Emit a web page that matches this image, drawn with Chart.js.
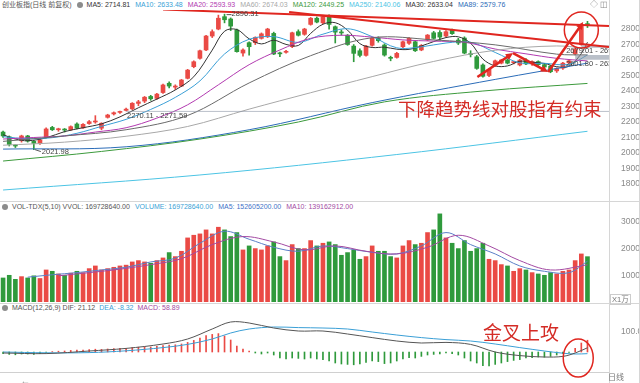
<!DOCTYPE html>
<html>
<head>
<meta charset="utf-8">
<title>创业板指 日线</title>
<script src="https://cdn.jsdelivr.net/npm/chart.js@4.4.1/dist/chart.umd.min.js"></script>
<style>
  html, body { margin: 0; padding: 0; background: #fff; }
  #wrap { position: relative; width: 640px; height: 383px; overflow: hidden; font-family: "Liberation Sans", Arial, "Noto Sans CJK SC", sans-serif; }
  #wrap canvas { position: absolute; left: 0; }
  .legend { position: absolute; left: 2px; height: 10px; line-height: 10px; font-size: 7px; white-space: nowrap; color: #555; }
  .legend span { margin-right: 5px; }
  .legend .dot { display: inline-block; width: 6px; height: 6px; border-radius: 50%; background: #8c8c8c; margin-right: 4px; vertical-align: -1px; }
  .rule { position: absolute; background: #d6d6d6; }
  .clip { position: absolute; left: 0; width: 609px; overflow: hidden; }
  .tag { position: absolute; font-size: 7.5px; line-height: 9px; color: #444; white-space: nowrap; }
  .say { position: absolute; color: #d42c26; font-family: "Noto Sans CJK SC", sans-serif; white-space: nowrap; }
</style>
</head>
<body>
<div id="wrap">
  <canvas id="kline" width="640" height="191" style="top:10px"></canvas>
  <canvas id="vol" width="640" height="90" style="top:212px"></canvas>
  <canvas id="macd" width="640" height="69" style="top:314px"></canvas>

  <div class="rule" style="left:0;top:201px;width:640px;height:1px"></div>
  <div class="rule" style="left:0;top:303px;width:640px;height:1px"></div>
  <div class="rule" style="left:609px;top:0;width:1px;height:383px"></div>
  <div class="rule" style="left:639px;top:0;width:1px;height:383px"></div>

  <div class="legend" style="top:0">
    <span>创业板指(日线 前复权)</span><i class="dot"></i><span style="color:#333">MA5: 2714.81</span><span style="color:#3a9fd6">MA10: 2633.48</span><span style="color:#b23ab0">MA20: 2593.93</span><span style="color:#a8a8a8">MA60: 2674.03</span><span style="color:#3c9a3c">MA120: 2449.25</span><span style="color:#4cc4e4">MA250: 2140.06</span><span style="color:#333">MA30: 2633.04</span><span style="color:#2b6cb8">MA89: 2579.76</span>
  </div>
  <div class="legend" style="top:0;left:590px;color:#888;font-size:8px">◇ ◫</div>
  <div class="legend" style="top:202px">
    <i class="dot"></i><span>VOL-TDX(5,10) VVOL: 169728640.00</span><span style="color:#3a9fd6">VOLUME: 169728640.00</span><span style="color:#3f73c8">MA5: 152605200.00</span><span style="color:#a34aa3">MA10: 139162912.00</span>
  </div>
  <div class="legend" style="top:303px">
    <i class="dot"></i><span style="margin-right:4px">MACD(12,26,9) DIF: 21.12</span><span style="color:#3a9fd6;margin-right:4px">DEA: -8.32</span><span style="color:#a34aa3">MACD: 58.89</span>
  </div>

  <div class="clip" style="top:10px;height:191px">
    <div class="tag" id="tagHigh"></div>
    <div class="tag" id="tagLow"></div>
    <div class="tag" id="tagGap0"></div>
    <div class="tag" id="tagGap1"></div>
    <div class="tag" id="tagGap2"></div>
  </div>

  <div class="say" style="left:398px;top:95px;font-size:18.5px">下降趋势线对股指有约束</div>
  <div class="say" style="left:483px;top:318px;font-size:19px">金叉上攻</div>

  <div class="tag" style="left:610px;top:294px;border:1px solid #ccc;padding:0 1px;color:#777">X1万</div>
  <div class="tag" style="left:608px;top:373px;font-size:8px;color:#777">日线</div>
</div>

<script>
// trading days shown, by month (2020)
const tradingDays = {
  5: [21, 22, 25, 26, 27, 28, 29],
  6: [1, 2, 3, 4, 5, 8, 9, 10, 11, 12, 15, 16, 17, 18, 19, 22, 23, 24, 29, 30],
  7: [1, 2, 3, 6, 7, 8, 9, 10, 13, 14, 15, 16, 17, 20, 21, 22, 23, 24, 27, 28, 29, 30, 31],
  8: [3, 4, 5, 6, 7, 10, 11, 12, 13, 14, 17, 18, 19, 20, 21, 24, 25, 26, 27, 28, 31],
  9: [1, 2, 3, 4, 7, 8, 9, 10, 11, 14, 15, 16, 17, 18, 21, 22, 23, 24, 25, 28, 29, 30],
  10: [9, 12, 13]
};
const dates = [];
Object.keys(tradingDays).forEach(m => tradingDays[m].forEach(d => dates.push(m + '/' + d)));

// x axis: month marks
const monthStarts = [0, 7, 27, 50, 71, 93];
const monthNames = ['2020年', '6', '7', '8', '9', '10'];

// daily candles
const open = [
  2135, 2105, 2050, 2079, 2110, 2075, 2062,
  2100, 2165, 2150, 2150, 2150, 2187, 2162, 2190, 2200, 2160, 2230, 2252, 2262, 2275, 2285, 2320, 2335, 2365, 2352, 2390,
  2450, 2425, 2432, 2482, 2557, 2611, 2665, 2755, 2800, 2880, 2865, 2794, 2645, 2712, 2712, 2740, 2750, 2772, 2645, 2650, 2686, 2783, 2766,
  2830, 2870, 2840, 2885, 2815, 2780, 2760, 2690, 2660, 2630, 2695, 2740, 2697, 2615, 2617, 2686, 2708, 2718, 2665, 2729, 2776,
  2778, 2755, 2795, 2729, 2742, 2640, 2621, 2568, 2500, 2568, 2580, 2600, 2583, 2568, 2600, 2575, 2590, 2570, 2561, 2530, 2548, 2582,
  2640, 2700, 2835
];
const high = [
  2142, 2110, 2055, 2115, 2114, 2080, 2090,
  2162, 2172, 2160, 2158, 2175, 2195, 2190, 2210, 2241, 2195, 2250, 2265, 2270.11, 2290, 2325, 2340, 2365, 2372, 2385, 2445,
  2460, 2440, 2475, 2540, 2595, 2665, 2760, 2795, 2890, 2896.31, 2872, 2800, 2672, 2718, 2750, 2775, 2805, 2780, 2652, 2662, 2780, 2795, 2805,
  2875, 2878, 2885, 2892, 2820, 2795, 2765, 2700, 2672, 2695, 2745, 2750, 2705, 2625, 2650, 2722, 2745, 2725, 2700, 2765, 2785,
  2790, 2790, 2800, 2740, 2750, 2660, 2630, 2575, 2545, 2600, 2605, 2605, 2592, 2605, 2610, 2595, 2595, 2578, 2565, 2550, 2585, 2601.80,
  2679.01, 2830, 2850
];
const low = [
  2100, 2045, 2035, 2070, 2070, 2021.98, 2055,
  2098, 2145, 2140, 2135, 2145, 2155, 2158, 2185, 2192, 2150, 2225, 2245, 2255, 2271.59, 2280, 2305, 2325, 2340, 2345, 2385,
  2420, 2410, 2428, 2478, 2550, 2605, 2660, 2745, 2795, 2840, 2790, 2650, 2625, 2632, 2700, 2735, 2745, 2635, 2621, 2645, 2680, 2755, 2760,
  2825, 2840, 2835, 2800, 2710, 2760, 2695, 2589, 2620, 2625, 2690, 2715, 2625, 2595, 2612, 2680, 2700, 2655, 2660, 2725, 2735,
  2730, 2750, 2765, 2700, 2640, 2620, 2540, 2490, 2492, 2560, 2575, 2575, 2575, 2562, 2570, 2565, 2565, 2545, 2518, 2520, 2540, 2570,
  2632.51, 2695.27, 2810
];
const close = [
  2110, 2055, 2045, 2110, 2077, 2062, 2084,
  2155, 2150, 2153, 2148, 2170, 2160, 2185, 2202, 2203, 2192, 2245, 2260, 2267, 2283, 2321, 2330, 2360, 2350, 2380, 2439,
  2432, 2432, 2471, 2535, 2589, 2660, 2755, 2783, 2870, 2860, 2819, 2654, 2665, 2686, 2746, 2769, 2800, 2639, 2640, 2655, 2776, 2760, 2800,
  2870, 2845, 2880, 2830, 2780, 2775, 2700, 2643, 2630, 2690, 2740, 2725, 2632, 2611, 2643, 2718, 2740, 2660, 2695, 2761, 2740,
  2748, 2783, 2770, 2710, 2645, 2635, 2546, 2495, 2540, 2595, 2600, 2580, 2585, 2600, 2575, 2590, 2570, 2555, 2525, 2545, 2580, 2595,
  2670, 2820, 2825
];

// moving averages: [day index, value]
const ma5 = [[0, 2118], [2, 2090], [4, 2079], [7, 2098], [10, 2138], [13, 2163], [16, 2188], [19, 2233], [22, 2292], [25, 2348], [28, 2407], [31, 2492], [34, 2664], [36, 2786], [38, 2797], [40, 2737], [42, 2704], [44, 2728], [46, 2701], [48, 2694], [50, 2772], [52, 2831], [54, 2841], [56, 2793], [58, 2706], [60, 2681], [62, 2683], [64, 2670], [66, 2669], [68, 2691], [70, 2719], [72, 2745], [74, 2750], [76, 2709], [78, 2606], [80, 2562], [82, 2562], [84, 2592], [86, 2586], [88, 2578], [90, 2557], [92, 2560], [94, 2642], [95, 2715]];
const ma10 = [[0, 2105], [4, 2092], [8, 2099], [12, 2127], [16, 2172], [20, 2217], [24, 2281], [28, 2359], [32, 2465], [36, 2639], [40, 2734], [44, 2751], [48, 2714], [52, 2767], [56, 2802], [60, 2751], [64, 2679], [68, 2685], [72, 2710], [76, 2715], [80, 2649], [84, 2582], [88, 2579], [92, 2572], [95, 2633]];
const ma20 = [[0, 2090], [5, 2100], [10, 2110], [15, 2135], [20, 2163], [25, 2225], [30, 2311], [35, 2440], [40, 2570], [45, 2665], [50, 2740], [55, 2760], [60, 2748], [65, 2730], [70, 2722], [75, 2715], [80, 2671], [85, 2640], [90, 2611], [95, 2594]];
const ma30 = [[0, 2075], [10, 2110], [20, 2150], [30, 2242], [40, 2452], [50, 2628], [60, 2744], [70, 2730], [80, 2698], [90, 2638], [95, 2633]];
const ma60 = [[0, 2050], [10, 2070], [20, 2108], [30, 2171], [40, 2283], [50, 2389], [60, 2493], [70, 2591], [80, 2663], [90, 2691], [95, 2674]];
const ma89 = [[0, 2025], [20, 2040], [40, 2150], [60, 2325], [80, 2475], [95, 2580]];
const ma120 = [[0, 1948], [16, 2010], [32, 2090], [48, 2200], [62, 2330], [78, 2400], [95, 2449]];
const ma250 = [[0, 1761], [32, 1858], [64, 1990], [95, 2140]];

// gaps left open: day index where the gap starts
const gapDays = [20, 93, 94];

// volume, 万
const volume = [
  9000, 10000, 8500, 9500, 9000, 9800, 8800,
  12000, 11500, 10500, 10000, 10800, 11500, 11000, 12500, 13500, 12000, 12500, 13000, 13500, 13800, 15000, 15500, 15000, 14500, 15500, 16500,
  18500, 17000, 19000, 24000, 25000, 25500, 27000, 25500, 28000, 27000, 24500, 26000, 19500, 21000, 20000, 19500, 21000, 22500, 17000, 15500, 21500, 20000, 20000,
  23000, 21000, 22000, 22500, 21500, 17500, 18500, 19500, 16000, 17000, 21000, 19000, 19000, 17000, 16500, 21000, 23000, 21500, 22000, 26000, 27000,
  33000, 24000, 22000, 20000, 23000, 19000, 20000, 22000, 16000, 15500, 14000, 13500, 11500, 12500, 12000, 11000, 10500, 10000, 11000, 10500, 11500, 12000,
  15500, 18000, 16973
];
const volMa5 = [[4, 9300], [8, 10200], [12, 11000], [16, 12000], [20, 13000], [24, 15000], [28, 16400], [32, 22000], [36, 26500], [40, 23500], [44, 20500], [48, 19000], [52, 21000], [56, 20000], [60, 18600], [64, 18000], [68, 21000], [72, 26000], [76, 21500], [80, 18000], [84, 13500], [88, 11500], [92, 11000], [95, 15260]];
const volMa10 = [[9, 9800], [14, 11000], [19, 12300], [24, 14000], [29, 16200], [34, 21500], [39, 24500], [44, 22500], [49, 19500], [54, 21000], [59, 19000], [64, 18000], [69, 20500], [74, 25000], [79, 21000], [84, 15500], [89, 12000], [95, 13916]];

// MACD(12,26,9)
const macdBar = [
  -8, -12, -14, -10, -10, -12, -8,
  -2, 2, 4, 5, 8, 9, 10, 12, 14, 13, 15, 17, 18, 18, 22, 24, 26, 25, 28, 32,
  35, 36, 40, 48, 58, 70, 82, 88, 92, 80, 60, 30, 15, 5, -5, -10, -5, -15, -30, -35, -30, -32, -35,
  -30, -35, -38, -45, -55, -60, -62, -64, -60, -52, -45, -48, -58, -55, -45, -35, -28, -30, -22, -15, -12,
  -10, -5, -8, -15, -30, -45, -55, -68, -70, -62, -55, -48, -42, -38, -30, -28, -25, -26, -22, -15, -8, -2,
  18, 45, 58.89
];
const dif = [[0, -5], [7, -8], [14, 5], [20, 18], [26, 40], [30, 65], [34, 115], [37, 150], [40, 145], [44, 120], [48, 105], [52, 105], [56, 90], [60, 72], [64, 55], [68, 45], [72, 48], [76, 38], [80, 0], [84, -18], [88, -25], [91, -22], [93, -5], [95, 21.12]];
const dea = [[0, 0], [7, -4], [14, -3], [20, 6], [26, 22], [30, 38], [34, 65], [37, 95], [40, 115], [44, 125], [48, 122], [52, 120], [56, 115], [60, 100], [64, 85], [68, 72], [72, 62], [76, 55], [80, 40], [84, 22], [88, 5], [91, -6], [93, -10], [95, -8.32]];

// axis ticks
const priceTicks = [1800, 1900, 2000, 2100, 2200, 2300, 2400, 2500, 2600, 2700, 2800];
const volTicks = [10000, 20000, 30000];
const macdTicks = [100];

const upRed = '#ea4a45';
const downGreen = '#2f9a3c';
const redInk = '#e0261f';

Chart.defaults.font.family = '"Liberation Sans", Arial, sans-serif';

// three empty slots after the last day
const axisLabels = dates.concat(['', ' ', '  ']);
const candleColor = ctx => close[ctx.dataIndex] >= open[ctx.dataIndex] ? upRed : downGreen;
const toPoints = pairs => pairs.map(([i, v]) => ({ x: dates[i], y: v }));

function maLine(pairs, color) {
  return { type: 'line', data: toPoints(pairs), borderColor: color, borderWidth: 1, pointRadius: 0, tension: 0.35, order: 0 };
}

function rightAxis(min, max, ticks, fmt) {
  return {
    position: 'right', min: min, max: max,
    grid: { display: false },
    border: { display: false },
    ticks: { color: '#8a8a8a', padding: 4, font: { size: 8.5 }, callback: fmt },
    afterBuildTicks: s => { s.ticks = ticks.map(v => ({ value: v })); },
    afterFit: s => { s.width = 31; s.paddingTop = 0; s.paddingBottom = 0; }
  };
}

const hiddenX = { display: false, offset: true, grid: { display: false } };

const baseOptions = {
  responsive: false,
  animation: false,
  events: [],
  layout: { padding: 0 },
  plugins: { legend: { display: false }, tooltip: { enabled: false } }
};

function arrowHead(ctx, x0, y0, x1, y1, size) {
  const a = Math.atan2(y1 - y0, x1 - x0);
  ctx.beginPath();
  ctx.moveTo(x1, y1);
  ctx.lineTo(x1 - size * Math.cos(a - 0.45), y1 - size * Math.sin(a - 0.45));
  ctx.lineTo(x1 - size * Math.cos(a + 0.45), y1 - size * Math.sin(a + 0.45));
  ctx.closePath();
  ctx.fill();
}

// gap bands, trend lines, arrows and circle over the candles
const klineMarks = {
  id: 'klineMarks',
  afterDatasetsDraw(chart) {
    const { ctx, chartArea: area, scales: { x, y } } = chart;
    ctx.save();

    gapDays.forEach(i => {
      const left = x.getPixelForValue(i);
      const top = y.getPixelForValue(low[i]);
      const h = Math.max(1, y.getPixelForValue(high[i - 1]) - top);
      ctx.fillStyle = 'rgba(140,150,165,0.6)';
      ctx.fillRect(left, top, area.right - left, h);
    });

    // leaders to the high / low labels
    ctx.strokeStyle = '#555';
    ctx.lineWidth = 1;
    ctx.beginPath();
    ctx.moveTo(x.getPixelForValue(36) + 2, y.getPixelForValue(high[36]) + 0.5);
    ctx.lineTo(x.getPixelForValue(36) + 7, y.getPixelForValue(high[36]) + 0.5);
    ctx.moveTo(x.getPixelForValue(5) + 1, y.getPixelForValue(low[5]));
    ctx.lineTo(x.getPixelForValue(5) + 7, y.getPixelForValue(low[5]) + 2);
    ctx.stroke();

    // downtrend lines
    ctx.strokeStyle = redInk;
    ctx.lineWidth = 2;
    [[26, 2926, 98, 2820], [46.5, 2910, 98, 2686]].forEach(([i0, v0, i1, v1]) => {
      const x0 = x.getPixelForValue(i0), y0 = y.getPixelForValue(v0);
      const k = (y.getPixelForValue(v1) - y0) / (x.getPixelForValue(i1) - x0);
      ctx.beginPath();
      ctx.moveTo(x0, y0);
      ctx.lineTo(area.right, y0 + k * (area.right - x0));
      ctx.stroke();
    });

    // zigzag arrows
    const path = [[77.1, 2490], [82.9, 2645], [88.6, 2523], [94.3, 2845]].map(([i, v]) => [x.getPixelForValue(i), y.getPixelForValue(v)]);
    ctx.lineWidth = 2.5;
    ctx.fillStyle = redInk;
    for (let k = 1; k < path.length; k++) {
      const [x0, y0] = path[k - 1], [x1, y1] = path[k];
      const a = Math.atan2(y1 - y0, x1 - x0);
      ctx.beginPath();
      ctx.moveTo(x0, y0);
      ctx.lineTo(x1 - 5 * Math.cos(a), y1 - 5 * Math.sin(a));
      ctx.stroke();
      arrowHead(ctx, x0, y0, x1, y1, 8);
    }

    // circle around the breakout
    ctx.lineWidth = 1.5;
    ctx.beginPath();
    ctx.ellipse(x.getPixelForValue(94), y.getPixelForValue(2794), 17, 18, 0, 0, Math.PI * 2);
    ctx.stroke();
    ctx.restore();
  }
};

const macdMarks = {
  id: 'macdMarks',
  afterDraw(chart) {
    const { ctx, scales: { x, y } } = chart;
    ctx.save();
    ctx.strokeStyle = redInk;
    ctx.lineWidth = 1.5;
    ctx.beginPath();
    ctx.ellipse(x.getPixelForValue(93.5), y.getPixelForValue(-30), 15, 19, 0, 0, Math.PI * 2);
    ctx.stroke();
    ctx.restore();
  }
};

const kline = new Chart(document.getElementById('kline'), {
  type: 'bar',
  data: {
    labels: axisLabels,
    datasets: [
      maLine(ma250, '#4cc4e4'),
      maLine(ma120, '#3c9a3c'),
      maLine(ma89, '#2b6cb8'),
      maLine(ma60, '#a8a8a8'),
      maLine(ma30, '#6a6a6a'),
      maLine(ma20, '#b23ab0'),
      maLine(ma10, '#3a9fd6'),
      maLine(ma5, '#333333'),
      { data: dates.map((d, i) => [low[i], high[i]]), backgroundColor: candleColor, barThickness: 1, grouped: false, order: 2 },
      { data: dates.map((d, i) => [open[i], close[i]]), backgroundColor: candleColor, barThickness: 4, minBarLength: 1, grouped: false, order: 1 }
    ]
  },
  options: Object.assign({}, baseOptions, {
    scales: { x: hiddenX, y: rightAxis(1690, 2923, priceTicks) }
  }),
  plugins: [klineMarks]
});

const vol = new Chart(document.getElementById('vol'), {
  type: 'bar',
  data: {
    labels: axisLabels,
    datasets: [
      maLine(volMa10, '#a34aa3'),
      maLine(volMa5, '#5b7fc7'),
      { data: volume, backgroundColor: candleColor, barThickness: 4, order: 1 }
    ]
  },
  options: Object.assign({}, baseOptions, {
    scales: { x: hiddenX, y: rightAxis(0, 33700, volTicks) }
  })
});

const macd = new Chart(document.getElementById('macd'), {
  type: 'bar',
  data: {
    labels: axisLabels,
    datasets: [
      maLine(dif, '#555555'),
      maLine(dea, '#3a9fd6'),
      { data: macdBar, backgroundColor: c => macdBar[c.dataIndex] >= 0 ? upRed : downGreen, barThickness: 1, order: 1 }
    ]
  },
  options: Object.assign({}, baseOptions, {
    scales: {
      x: {
        offset: true,
        grid: { display: false },
        border: { display: true, color: '#d0d0d0' },
        ticks: {
          autoSkip: false, maxRotation: 0, align: 'inner', padding: 1, color: '#888', font: { size: 8 },
          callback: (v, i) => { const k = monthStarts.indexOf(i); return k >= 0 ? monthNames[k] : ''; }
        },
        afterFit: s => { s.height = 11; s.paddingLeft = 0; s.paddingRight = 0; }
      },
      y: rightAxis(-100, 190, macdTicks, v => v.toFixed(1))
    }
  }),
  plugins: [macdMarks]
});

// price labels placed through the price scale
function placeTag(id, text, i, v, dx, dy) {
  const el = document.getElementById(id);
  el.textContent = text;
  el.style.left = (kline.scales.x.getPixelForValue(i) + dx) + 'px';
  el.style.top = (kline.scales.y.getPixelForValue(v) + dy) + 'px';
}
placeTag('tagHigh', high[36].toFixed(2), 36, high[36], 7, -5);
placeTag('tagLow', low[5].toFixed(2), 5, low[5], 8, -3);
placeTag('tagGap0', high[19].toFixed(2) + ' - ' + low[20].toFixed(2), 20, high[19], 1, 0);
placeTag('tagGap1', high[92].toFixed(2) + ' - ' + low[93].toFixed(2), 92, high[92], -3, -1);
placeTag('tagGap2', high[93].toFixed(2) + ' - ' + low[94].toFixed(2), 93, high[93], -9, -2);
</script>
</body>
</html>
